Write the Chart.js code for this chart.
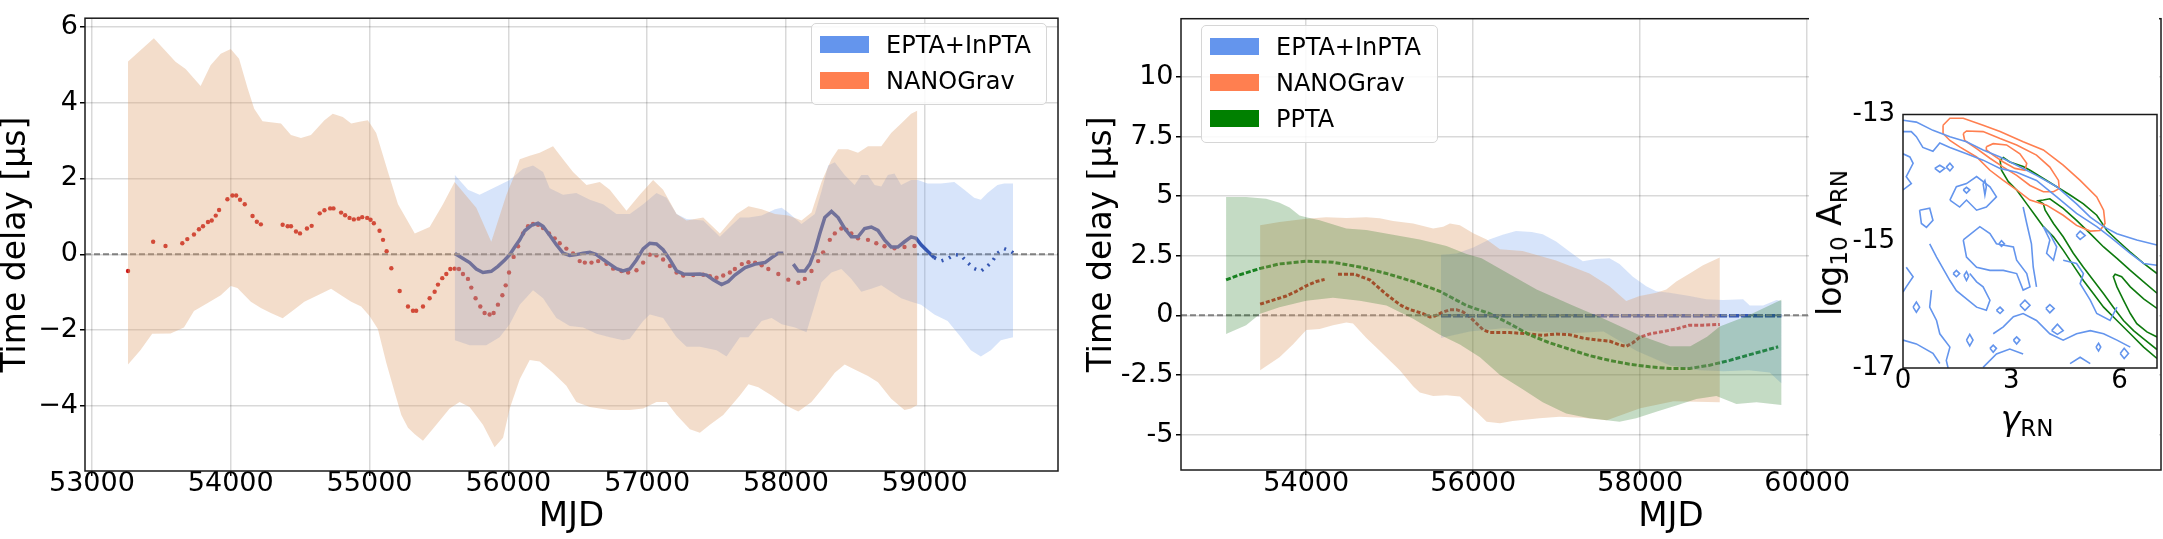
<!DOCTYPE html>
<html>
<head>
<meta charset="utf-8">
<script src="https://cdn.jsdelivr.net/npm/chart.js@4.4.1/dist/chart.umd.min.js"></script>
<style>
  body { margin: 0; background: #fff; width: 2163px; height: 539px; overflow: hidden; position: relative; font-family: "DejaVu Sans", sans-serif; }
  canvas { position: absolute; }
  .legend { position: absolute; background: rgba(255,255,255,0.85); border: 1px solid #d6d6d6; border-radius: 5px; font-size: 24px; }
  .legend .patch { position: absolute; width: 49px; height: 17px; }
  .legend .lab { position: absolute; line-height: 24px; white-space: nowrap; }
  .lbl { position: absolute; font-size: 33px; white-space: nowrap; color: #000; }
  .lbl sub { font-size: 23px; vertical-align: -6px; }
</style>
</head>
<body>
<canvas id="left" width="1075" height="539" style="left:0;top:0"></canvas>
<canvas id="mid" width="1077" height="539" style="left:1086px;top:0"></canvas>
<canvas id="inset" width="350" height="466" style="left:1809px;top:3px;background:#fff"></canvas>
<div id="legLeft" class="legend" style="left:811px;top:23px;width:234px;height:80px"></div>
<div id="legMid" class="legend" style="left:1201px;top:25px;width:235px;height:116px"></div>
<div class="lbl" style="left:1831px;top:243px;transform:translate(-50%,-50%) rotate(-90deg)">log<sub>10</sub> A<sub>RN</sub></div>
<div class="lbl" style="left:2027px;top:420px;transform:translate(-50%,-50%)"><i>γ</i><sub>RN</sub></div>
<script>
// ---------- left panel: [MJD, time delay in us] ----------
const nanoUpper = [[53260,5.09],[53446,5.70],[53602,5.08],[53675,4.89],[53783,4.44],[53855,4.99],[53928,5.29],[54000,5.42],[54060,5.16],[54121,4.39],[54169,3.84],[54229,3.51],[54362,3.45],[54434,3.15],[54506,3.07],[54578,3.15],[54675,3.54],[54735,3.71],[54807,3.62],[54868,3.45],[54928,3.50],[54988,3.54],[55048,3.20],[55133,2.17],[55205,1.32],[55326,0.55],[55433,0.72],[55529,1.32],[55613,1.91],[55769,1.23],[55877,0.33],[55986,1.57],[56034,2.00],[56082,2.51],[56154,2.60],[56226,2.68],[56322,2.85],[56394,2.51],[56466,2.17],[56563,1.83],[56659,1.91],[56731,1.70],[56851,1.15],[56947,1.57],[57043,1.96],[57115,1.70],[57212,1.06],[57284,0.89],[57404,0.97],[57524,0.55],[57644,1.06],[57730,1.27],[57825,1.19],[57921,1.06],[58017,1.02],[58112,0.89],[58184,1.10],[58256,1.91],[58328,2.51],[58376,2.77],[58447,2.77],[58519,2.68],[58591,2.85],[58687,2.85],[58758,3.20],[58830,3.45],[58902,3.71],[58945,3.79]];
const nanoLower = [[53260,-2.91],[53349,-2.53],[53434,-2.10],[53566,-2.09],[53663,-1.93],[53735,-1.50],[53831,-1.29],[53928,-1.08],[54000,-0.84],[54048,-0.89],[54145,-1.25],[54217,-1.42],[54289,-1.55],[54374,-1.69],[54458,-1.46],[54530,-1.25],[54627,-1.08],[54723,-0.91],[54795,-1.08],[54868,-1.25],[54940,-1.38],[55000,-1.63],[55060,-1.97],[55121,-2.87],[55181,-3.64],[55229,-4.24],[55277,-4.58],[55326,-4.75],[55385,-4.92],[55481,-4.50],[55577,-4.07],[55649,-3.90],[55721,-4.03],[55817,-4.50],[55901,-5.09],[55962,-4.84],[56010,-4.07],[56082,-3.30],[56154,-2.79],[56226,-2.83],[56322,-3.13],[56418,-3.47],[56490,-3.90],[56587,-4.03],[56731,-4.11],[56875,-4.11],[56971,-4.07],[57067,-3.90],[57140,-3.90],[57212,-4.24],[57308,-4.62],[57380,-4.71],[57452,-4.50],[57548,-4.24],[57668,-3.73],[57730,-3.43],[57801,-3.51],[57897,-3.73],[57993,-3.98],[58089,-4.15],[58184,-3.90],[58280,-3.47],[58352,-3.13],[58423,-2.91],[58495,-3.04],[58591,-3.21],[58663,-3.38],[58758,-3.81],[58854,-4.11],[58902,-4.07],[58945,-3.98]];
const eptaUpper = [[55615,2.09],[55709,1.70],[55793,1.57],[55889,1.74],[56010,1.96],[56106,2.26],[56178,2.34],[56250,2.17],[56298,1.74],[56394,1.57],[56490,1.62],[56587,1.44],[56683,1.32],[56779,1.06],[56875,1.06],[56971,1.32],[57067,1.62],[57140,1.49],[57212,1.06],[57284,0.93],[57404,0.89],[57524,0.46],[57596,0.72],[57668,0.97],[57730,0.97],[57825,1.02],[57921,1.19],[57969,1.23],[58017,1.10],[58112,0.80],[58208,1.06],[58256,1.66],[58304,2.34],[58352,2.43],[58423,2.09],[58495,1.83],[58543,2.09],[58591,2.09],[58639,1.83],[58687,1.79],[58734,2.09],[58782,2.13],[58830,1.83],[58902,1.96],[58950,1.96],[59021,1.87],[59117,1.87],[59213,1.91],[59285,1.70],[59356,1.49],[59404,1.44],[59452,1.62],[59524,1.83],[59572,1.87],[59636,1.87]];
const eptaLower = [[55615,-2.27],[55721,-2.40],[55841,-2.40],[55937,-2.19],[56010,-1.85],[56082,-1.33],[56178,-0.95],[56250,-1.16],[56346,-1.68],[56442,-1.89],[56539,-1.93],[56635,-2.10],[56731,-2.19],[56827,-2.27],[56875,-2.23],[56971,-1.76],[57019,-1.59],[57115,-1.68],[57212,-2.19],[57284,-2.44],[57380,-2.44],[57500,-2.53],[57572,-2.70],[57668,-2.19],[57730,-2.19],[57825,-1.76],[57897,-1.68],[57969,-1.85],[58065,-1.93],[58148,-2.06],[58208,-1.33],[58256,-0.74],[58328,-0.48],[58399,-0.39],[58471,-0.65],[58543,-0.99],[58615,-0.91],[58687,-0.82],[58758,-0.99],[58830,-1.16],[58902,-1.25],[58974,-1.33],[59069,-1.59],[59165,-1.76],[59261,-2.19],[59332,-2.53],[59404,-2.70],[59476,-2.53],[59548,-2.27],[59636,-2.19]];
const nanoDots = [[53260,-0.44],[53441,0.33],[53530,0.22],[53651,0.29],[53687,0.40],[53735,0.52],[53771,0.66],[53800,0.74],[53836,0.85],[53863,0.89],[53892,1.02],[53916,1.17],[53976,1.45],[54012,1.55],[54039,1.55],[54067,1.44],[54101,1.32],[54157,1.01],[54188,0.86],[54217,0.79],[54374,0.78],[54410,0.74],[54434,0.74],[54470,0.60],[54499,0.55],[54549,0.68],[54583,0.75],[54641,1.08],[54675,1.16],[54716,1.21],[54740,1.21],[54795,1.10],[54824,1.03],[54856,0.96],[54887,0.92],[54921,0.94],[54947,0.98],[54983,0.96],[55007,0.91],[55031,0.82],[55072,0.62],[55097,0.38],[55123,0.08],[55157,-0.37],[55217,-0.97],[55277,-1.38],[55313,-1.49],[55336,-1.49],[55385,-1.38],[55433,-1.16],[55469,-0.99],[55493,-0.80],[55524,-0.63],[55553,-0.52],[55582,-0.39],[55613,-0.38],[55644,-0.39],[55673,-0.52],[55709,-0.65],[55733,-0.88],[55764,-1.16],[55798,-1.38],[55829,-1.55],[55865,-1.59],[55894,-1.55],[55925,-1.33],[55957,-1.08],[55981,-0.82],[56005,-0.48],[56038,-0.07],[56070,0.21],[56106,0.55],[56142,0.74],[56178,0.80],[56214,0.78],[56250,0.69],[56293,0.55],[56334,0.42],[56370,0.29],[56418,0.15],[56466,0.02],[56514,-0.18],[56551,-0.22],[56599,-0.22],[56647,-0.18],[56707,-0.25],[56755,-0.38],[56815,-0.44],[56863,-0.48],[56923,-0.42],[56971,-0.22],[57019,-0.01],[57067,-0.03],[57115,-0.14],[57164,-0.31],[57212,-0.48],[57260,-0.56],[57332,-0.55],[57404,-0.54],[57452,-0.58],[57500,-0.62],[57548,-0.56],[57596,-0.48],[57632,-0.39],[57682,-0.26],[57730,-0.21],[57778,-0.22],[57825,-0.29],[57873,-0.39],[57945,-0.52],[58017,-0.67],[58089,-0.75],[58136,-0.65],[58184,-0.44],[58232,-0.18],[58268,0.05],[58316,0.38],[58352,0.55],[58399,0.68],[58435,0.65],[58471,0.55],[58519,0.42],[58591,0.38],[58651,0.29],[58710,0.21],[58782,0.16],[58854,0.19],[58926,0.22]];
const eptaCurve = [[55615,0.02],[55673,-0.11],[55721,-0.22],[55769,-0.39],[55817,-0.48],[55877,-0.45],[55925,-0.32],[55974,-0.15],[56010,-0.01],[56046,0.19],[56082,0.38],[56118,0.62],[56166,0.76],[56214,0.82],[56250,0.74],[56298,0.50],[56346,0.25],[56394,0.03],[56442,-0.03],[56490,-0.01],[56539,0.03],[56587,0.05],[56635,-0.01],[56683,-0.14],[56731,-0.26],[56779,-0.38],[56827,-0.44],[56875,-0.39],[56923,-0.15],[56971,0.14],[57019,0.29],[57067,0.27],[57115,0.12],[57164,-0.14],[57212,-0.44],[57260,-0.52],[57308,-0.53],[57380,-0.52],[57428,-0.55],[57476,-0.67],[57536,-0.80],[57584,-0.72],[57632,-0.55],[57706,-0.35],[57778,-0.26],[57849,-0.22],[57897,-0.09],[57945,0.03],[57981,0.03],[58010,null],[58053,-0.26],[58089,-0.44],[58136,-0.44],[58172,-0.26],[58208,0.08],[58244,0.55],[58280,0.97],[58328,1.13],[58376,0.97],[58423,0.68],[58471,0.46],[58519,0.46],[58567,0.68],[58615,0.72],[58663,0.63],[58710,0.38],[58758,0.19],[58806,0.19],[58854,0.33],[58902,0.46],[58938,0.42],[58974,0.25],[59021,0.08],[59069,-0.09],[59117,-0.18],[59165,-0.12],[59213,-0.01],[59261,-0.03],[59308,-0.22],[59356,-0.38],[59404,-0.45],[59452,-0.31],[59488,-0.18],[59524,0.03],[59572,0.15],[59620,0.08],[59643,0.02]];

// ---------- middle panel ----------
const eptaUpperM = [[55614,2.54],[55800,2.60],[56000,2.85],[56192,3.18],[56352,3.38],[56512,3.54],[56700,3.50],[56832,3.40],[56992,3.10],[57152,2.68],[57312,2.27],[57472,2.36],[57632,2.40],[57752,2.16],[57912,1.62],[58072,1.22],[58192,1.01],[58352,0.95],[58592,0.81],[58792,0.68],[58992,0.64],[59232,0.68],[59312,0.41],[59472,0.41],[59632,0.64],[59690,0.60]];
const eptaLowerM = [[55614,-0.95],[55960,-0.68],[56360,-0.54],[56760,-0.68],[57160,-0.75],[57560,-0.68],[57958,-1.50],[58357,-2.10],[58700,-2.30],[59000,-2.35],[59300,-2.30],[59550,-2.40],[59690,-2.85]];
const nanoUpperM = [[53448,3.78],[53680,3.92],[54000,4.05],[54240,4.12],[54480,4.09],[54720,4.12],[54880,4.08],[55040,3.96],[55280,3.85],[55520,3.65],[55640,3.72],[55720,3.85],[55840,3.78],[56000,3.45],[56160,3.18],[56320,2.77],[56592,2.70],[56992,2.30],[57392,1.76],[57632,1.22],[57832,0.60],[57992,0.81],[58192,0.95],[58312,1.08],[58432,1.42],[58592,1.76],[58752,2.10],[58952,2.43]];
const nanoLowerM = [[53448,-2.30],[53680,-1.76],[53840,-1.22],[54000,-0.61],[54160,-0.57],[54320,-0.41],[54480,-0.30],[54560,-0.34],[54720,-0.95],[54880,-1.49],[55120,-2.30],[55280,-2.97],[55360,-3.24],[55520,-3.38],[55680,-3.35],[55840,-3.41],[56000,-3.92],[56160,-4.46],[56320,-4.53],[56472,-4.43],[56792,-4.32],[57032,-4.26],[57300,-4.30],[57600,-4.40],[58000,-3.90],[58400,-3.60],[58952,-3.65]];
const pptaUpper = [[53040,4.97],[53280,4.97],[53520,4.89],[53680,4.73],[53800,4.53],[53920,4.19],[54000,4.12],[54160,3.99],[54480,3.65],[54720,3.58],[55040,3.38],[55360,3.18],[55680,2.91],[55920,2.57],[56100,2.40],[56400,1.80],[56760,1.08],[57200,0.40],[57558,-0.13],[58000,-0.85],[58357,-1.30],[58600,-1.30],[58800,-0.90],[58952,-0.47],[59300,0.00],[59690,0.65]];
const pptaLower = [[53040,-0.78],[53280,-0.41],[53448,0.07],[53680,0.34],[54000,0.61],[54320,0.74],[54640,0.61],[54960,0.41],[55280,-0.14],[55600,-0.81],[55840,-1.22],[56080,-1.76],[56320,-2.50],[56592,-3.10],[56832,-3.65],[57112,-4.12],[57392,-4.32],[57752,-4.46],[57952,-4.32],[58192,-4.05],[58432,-3.78],[58672,-3.51],[58912,-3.38],[59152,-3.72],[59392,-3.65],[59690,-3.76]];
const nanoCurveM = [[53448,0.47],[53640,0.68],[53760,0.81],[53880,1.01],[54000,1.24],[54120,1.42],[54220,1.51],[54300,null],[54380,1.72],[54480,1.73],[54580,1.73],[54660,1.62],[54760,1.49],[54860,1.18],[54960,0.88],[55060,0.61],[55140,0.41],[55240,0.24],[55320,0.16],[55400,0.07],[55480,-0.07],[55540,-0.03],[55620,0.11],[55720,0.24],[55800,0.24],[55880,0.14],[55960,-0.07],[56040,-0.34],[56120,-0.61],[56200,-0.72],[56432,-0.72],[56672,-0.78],[56832,-0.84],[56992,-0.78],[57152,-0.81],[57312,-0.95],[57472,-1.03],[57632,-1.08],[57752,-1.24],[57832,-1.30],[57912,-1.15],[57992,-0.92],[58112,-0.78],[58272,-0.68],[58432,-0.57],[58592,-0.41],[58752,-0.41],[58952,-0.38]];
const pptaCurve = [[53040,1.49],[53200,1.70],[53440,1.96],[53680,2.16],[54000,2.27],[54320,2.23],[54640,2.03],[54960,1.76],[55280,1.42],[55600,1.01],[55920,0.41],[56192,0.08],[56432,-0.34],[56672,-0.81],[56912,-1.15],[57152,-1.42],[57392,-1.69],[57632,-1.89],[57872,-2.05],[58112,-2.16],[58352,-2.23],[58592,-2.23],[58832,-2.09],[59072,-1.89],[59312,-1.65],[59652,-1.32]];
const eptaCurveM = [[55614,-0.02],[59690,-0.02]];

// ---------- inset contours: [gamma_RN, log10 A_RN] ----------
const nanoContours = [
  [[1.11,-13.17],[1.30,-13.06],[1.67,-13.06],[2.22,-13.17],[2.69,-13.27],[3.33,-13.43],[3.89,-13.56],[4.44,-13.80],[4.91,-14.04],[5.37,-14.30],[5.56,-14.51],[5.60,-14.72],[5.46,-14.83],[5.19,-14.84],[4.81,-14.75],[4.44,-14.59],[3.98,-14.43],[3.52,-14.35],[3.15,-14.19],[2.78,-14.04],[2.41,-13.88],[2.04,-13.67],[1.57,-13.51],[1.30,-13.41],[1.11,-13.30],[1.11,-13.17]],
  [[1.67,-13.30],[1.76,-13.26],[2.22,-13.27],[2.69,-13.38],[3.15,-13.48],[3.70,-13.64],[4.07,-13.83],[4.31,-14.04],[4.33,-14.17],[4.17,-14.22],[3.89,-14.22],[3.52,-14.12],[3.15,-13.96],[2.78,-13.83],[2.41,-13.69],[2.04,-13.54],[1.71,-13.41],[1.67,-13.30]],
  [[2.31,-13.51],[2.50,-13.46],[2.87,-13.48],[3.24,-13.62],[3.43,-13.77],[3.38,-13.88],[3.10,-13.85],[2.78,-13.75],[2.50,-13.64],[2.31,-13.56],[2.31,-13.51]]
];
const pptaContours = [
  [[7.04,-15.51],[6.67,-15.35],[6.30,-15.17],[5.93,-14.98],[5.65,-14.83],[5.56,-14.75],[5.37,-14.59],[5.00,-14.41],[4.63,-14.27],[4.26,-14.14],[3.89,-14.01],[3.52,-13.88],[3.33,-13.82],[2.96,-13.75],[2.78,-13.68],[2.69,-13.72],[2.73,-13.88],[2.92,-14.06],[3.15,-14.19],[3.43,-14.41],[3.66,-14.59],[3.89,-14.77],[4.17,-14.93],[4.44,-15.14],[4.72,-15.38],[5.00,-15.62],[5.28,-15.83],[5.56,-16.04],[5.93,-16.25],[6.30,-16.46],[6.67,-16.67],[7.04,-16.85]],
  [[7.04,-15.82],[6.67,-15.64],[6.30,-15.46],[5.93,-15.27],[5.56,-15.09],[5.19,-14.88],[4.81,-14.67],[4.44,-14.48],[4.07,-14.33],[3.89,-14.35],[3.75,-14.36],[3.89,-14.41],[3.94,-14.51],[4.17,-14.72],[4.44,-14.93],[4.72,-15.19],[5.00,-15.41],[5.28,-15.62],[5.56,-15.83],[5.83,-16.04],[6.11,-16.25],[6.39,-16.41],[6.67,-16.54],[7.04,-16.71]],
  [[7.04,-16.06],[6.67,-15.91],[6.30,-15.72],[6.06,-15.56],[5.88,-15.52],[5.83,-15.56],[5.93,-15.72],[6.11,-15.93],[6.30,-16.14],[6.48,-16.30],[6.76,-16.43],[7.04,-16.51]]
];
const eptaContours = [
  [[0,-13.09],[0.37,-13.12],[0.83,-13.25],[1.30,-13.35],[1.76,-13.43],[2.22,-13.56],[2.69,-13.67],[3.15,-13.80],[3.70,-13.96],[4.26,-14.14],[4.81,-14.41],[5.19,-14.62],[5.56,-14.77],[5.93,-14.88],[6.48,-14.98],[7.04,-15.06]],
  [[0,-13.27],[0.23,-13.27],[0.37,-13.35],[0.55,-13.52],[0.83,-13.58],[1.02,-13.45],[1.30,-13.52],[1.76,-13.62],[2.22,-13.72],[2.69,-13.85],[3.15,-13.91],[3.70,-14.04],[4.26,-14.30],[4.81,-14.56],[5.37,-14.77],[5.74,-14.93],[6.30,-15.19],[6.67,-15.35],[7.04,-15.38]],
  [[0,-13.62],[0.19,-13.67],[0.28,-13.77],[0.09,-13.98],[0.23,-14.09],[0,-14.19]],
  [[0.46,-14.51],[0.74,-14.48],[0.83,-14.67],[0.65,-14.78],[0.51,-14.72],[0.46,-14.51]],
  [[0.79,-15.77],[0.74,-16.04],[0.93,-16.25],[1.02,-16.46],[1.30,-16.67],[1.20,-16.88],[1.25,-17.0]],
  [[0.09,-15.41],[0.28,-15.56],[0.09,-15.72],[0,-15.80]],
  [[1.67,-14.98],[2.13,-14.77],[2.41,-14.88],[2.59,-15.04],[3.06,-15.09],[3.15,-15.30],[3.43,-15.51],[3.52,-15.72],[3.33,-15.77],[3.15,-15.51],[2.78,-15.46],[2.41,-15.46],[2.04,-15.41],[1.76,-15.25],[1.67,-14.98]],
  [[0.74,-15.04],[0.93,-15.25],[1.30,-15.62],[1.48,-15.78],[2.04,-16.04],[2.31,-16.09],[2.41,-15.93],[2.22,-15.72],[2.04,-15.64],[1.85,-15.51]],
  [[1.30,-14.35],[1.48,-14.14],[1.76,-14.09],[2.04,-13.98],[2.41,-14.14],[2.59,-14.30],[2.31,-14.46],[2.04,-14.51],[1.76,-14.35],[1.57,-14.46],[1.30,-14.35]],
  [[3.33,-14.46],[3.43,-14.72],[3.56,-15.04],[3.61,-15.41],[3.70,-15.72]],
  [[3.89,-14.77],[4.07,-14.98],[3.98,-15.19],[4.17,-15.30],[4.26,-15.09],[4.07,-14.88],[3.89,-14.77]],
  [[2.50,-16.46],[2.78,-16.35],[3.06,-16.19],[3.33,-16.14],[3.70,-16.25],[4.07,-16.46],[4.44,-16.56],[4.81,-16.46],[5.19,-16.41],[5.56,-16.46],[5.93,-16.56],[6.30,-16.67]],
  [[0,-16.56],[0.37,-16.62],[0.83,-16.77],[1.02,-16.93]],
  [[4.44,-15.30],[4.81,-15.35],[5.00,-15.51],[4.91,-15.67],[5.19,-15.93],[5.37,-16.14],[5.74,-16.25],[5.93,-16.04]],
  [[2.22,-16.99],[2.59,-16.78],[2.96,-16.70],[3.33,-16.78]],
  [[4.63,-16.93],[4.91,-16.83],[5.19,-16.93]],
  [[0.88,-13.85],[1.02,-13.80],[1.16,-13.85],[1.02,-13.91],[0.88,-13.85]],
  [[1.67,-14.19],[1.76,-14.15],[1.85,-14.19],[1.76,-14.24],[1.67,-14.19]],
  [[2.22,-14.09],[2.27,-14.04],[2.31,-14.14],[2.27,-14.27],[2.22,-14.09]],
  [[1.39,-15.51],[1.48,-15.46],[1.57,-15.51],[1.48,-15.56],[1.39,-15.51]],
  [[1.69,-15.54],[1.76,-15.48],[1.82,-15.55],[1.76,-15.62],[1.69,-15.54]],
  [[0.28,-16.04],[0.37,-15.96],[0.46,-16.04],[0.37,-16.12],[0.28,-16.04]],
  [[2.59,-16.09],[2.69,-16.04],[2.78,-16.09],[2.69,-16.14],[2.59,-16.09]],
  [[3.24,-16.01],[3.38,-15.93],[3.52,-16.01],[3.38,-16.09],[3.24,-16.01]],
  [[3.96,-16.06],[4.07,-16.00],[4.19,-16.06],[4.07,-16.13],[3.96,-16.06]],
  [[4.12,-16.41],[4.28,-16.31],[4.44,-16.41],[4.28,-16.47],[4.12,-16.41]],
  [[1.76,-16.56],[1.85,-16.47],[1.94,-16.56],[1.85,-16.65],[1.76,-16.56]],
  [[3.06,-16.56],[3.15,-16.51],[3.24,-16.56],[3.15,-16.62],[3.06,-16.56]],
  [[6.02,-16.77],[6.13,-16.69],[6.25,-16.77],[6.13,-16.85],[6.02,-16.77]],
  [[2.66,-15.04],[2.73,-14.99],[2.81,-15.04],[2.73,-15.08],[2.66,-15.04]],
  [[4.80,-14.91],[4.91,-14.84],[5.05,-14.91],[4.91,-14.97],[4.80,-14.91]],
  [[2.41,-16.69],[2.50,-16.64],[2.59,-16.69],[2.50,-16.75],[2.41,-16.69]],
  [[1.20,-13.83],[1.30,-13.77],[1.39,-13.83],[1.30,-13.89],[1.20,-13.83]],
  [[5.35,-16.67],[5.42,-16.61],[5.48,-16.67],[5.42,-16.73],[5.35,-16.67]]
];

const legendLabels = ['EPTA+InPTA', 'NANOGrav', 'PPTA'];
const legendColors = ['#6495ed', '#ff7f50', '#008000'];
const leftTicksX = [53000, 54000, 55000, 56000, 57000, 58000, 59000];
const midTicksX = [54000, 56000, 58000, 60000];

Chart.defaults.font.family = '"DejaVu Sans", sans-serif';
Chart.defaults.color = '#000';

const pts = arr => arr.map(p => ({x: p[0], y: p[1]}));
const shape = (up, lo) => pts(up.concat(lo.slice().reverse()));
const fixW = w => s => { s.width = w; };
const fixH = h => s => { s.height = h; };

const framePlugin = {
  id: 'frame',
  afterDatasetsDraw(chart) {
    const a = chart.chartArea, ctx = chart.ctx;
    ctx.save();
    ctx.strokeStyle = '#1a1a1a';
    ctx.lineWidth = 1.5;
    ctx.strokeRect(a.left, a.top, a.right - a.left, a.bottom - a.top);
    ctx.restore();
  }
};

const BAND_BLUE = 'rgba(100,149,237,0.26)';
const BAND_ORANGE = 'rgba(222,160,110,0.36)';
const BAND_GREEN = 'rgba(0,100,0,0.23)';

// the filler paints the first dataset last, so bands are listed top-most first
function bandSet(up, lo, color) {
  return {data: shape(up, lo), showLine: true, fill: 'shape', backgroundColor: color, borderWidth: 0, pointRadius: 0};
}
function zeroLine(x0, x1) {
  return {data: [{x: x0, y: 0}, {x: x1, y: 0}], showLine: true, borderColor: '#808080', borderWidth: 2, borderDash: [6, 3], pointRadius: 0};
}
function keepTicks(list) {
  return s => { s.ticks = list.map(v => ({value: v})); };
}
function gridOpts() {
  return {color: 'rgba(0,0,0,0.15)', lineWidth: 1.5, tickLength: 5, tickColor: '#000'};
}

// ---------- left chart ----------
new Chart(document.getElementById('left'), {
  type: 'scatter',
  data: {datasets: [
    bandSet(nanoUpper, nanoLower, BAND_ORANGE),
    bandSet(eptaUpper, eptaLower, BAND_BLUE),
    zeroLine(52950, 59960),
    {data: pts(eptaCurve), showLine: true, spanGaps: false, borderColor: '#24409e', borderWidth: 3.5, pointRadius: 0,
     segment: {borderDash: c => c.p0.parsed.x >= 59030 ? [2, 6] : undefined}},
    {data: pts(nanoDots), showLine: false, pointRadius: 2.2, pointBackgroundColor: '#cc1a1a', pointBorderWidth: 0}
  ]},
  options: {
    responsive: false, animation: false,
    layout: {padding: {left: 0, top: 5, right: 17, bottom: 0}},
    plugins: {legend: {display: false}, tooltip: {enabled: false}},
    scales: {
      x: {type: 'linear', min: 52950, max: 59960, afterFit: fixH(68), afterBuildTicks: keepTicks(leftTicksX),
          grid: gridOpts(), border: {display: false},
          ticks: {font: {size: 27, lineHeight: 1}, padding: -6, maxRotation: 0, callback: v => String(v)},
          title: {display: true, text: 'MJD', font: {size: 34, lineHeight: 1}, padding: {top: 0, bottom: 5}}},
      y: {type: 'linear', min: -5.72, max: 6.23, afterFit: fixW(85),
          grid: gridOpts(), border: {display: false},
          ticks: {stepSize: 2, includeBounds: false, font: {size: 27}, padding: 2, callback: v => v < 0 ? '\u2212' + Math.abs(v) : String(v)},
          title: {display: true, text: 'Time delay [μs]', font: {size: 33, lineHeight: 1}, padding: 0}}
    }
  },
  plugins: [framePlugin]
});

// ---------- middle chart ----------
new Chart(document.getElementById('mid'), {
  type: 'scatter',
  data: {datasets: [
    bandSet(pptaUpper, pptaLower, BAND_GREEN),
    bandSet(nanoUpperM, nanoLowerM, BAND_ORANGE),
    bandSet(eptaUpperM, eptaLowerM, BAND_BLUE),
    zeroLine(52500, 60100),
    {data: pts(eptaCurveM), showLine: true, borderColor: '#24409e', borderWidth: 3.5, borderDash: [10, 2], pointRadius: 0},
    {data: pts(pptaCurve), showLine: true, borderColor: '#1f8a2a', borderWidth: 3, borderDash: [5, 2], pointRadius: 0},
    {data: pts(nanoCurveM), showLine: true, spanGaps: false, borderColor: '#cc1a1a', borderWidth: 3, borderDash: [4, 2], pointRadius: 0}
  ]},
  options: {
    responsive: false, animation: false,
    layout: {padding: {left: 0, top: 1, right: 2, bottom: 0}},
    plugins: {legend: {display: false}, tooltip: {enabled: false}},
    scales: {
      x: {type: 'linear', min: 52500, max: 64237, afterFit: fixH(69), afterBuildTicks: keepTicks(midTicksX),
          grid: gridOpts(), border: {display: false},
          ticks: {font: {size: 27, lineHeight: 1}, padding: -4.5, maxRotation: 0, callback: v => String(v)},
          title: {display: true, text: 'MJD', font: {size: 34, lineHeight: 1}, padding: {top: 0, bottom: 5}}},
      y: {type: 'linear', min: -6.49, max: 12.45, afterFit: fixW(95),
          grid: gridOpts(), border: {display: false},
          ticks: {stepSize: 2.5, includeBounds: false, font: {size: 27}, padding: 2.5},
          title: {display: true, text: 'Time delay [μs]', font: {size: 33, lineHeight: 1}, padding: 0}}
    }
  },
  plugins: [framePlugin]
});

// ---------- inset ----------
const insetSets = [];
eptaContours.forEach(c => insetSets.push({data: pts(c), showLine: true, borderColor: '#6495ed', borderWidth: 1.6, pointRadius: 0}));
nanoContours.forEach(c => insetSets.push({data: pts(c), showLine: true, borderColor: '#ff7f50', borderWidth: 1.6, pointRadius: 0}));
pptaContours.forEach(c => insetSets.push({data: pts(c), showLine: true, borderColor: '#0e7a0e', borderWidth: 1.6, pointRadius: 0}));

new Chart(document.getElementById('inset'), {
  type: 'scatter',
  data: {datasets: insetSets},
  options: {
    responsive: false, animation: false,
    layout: {padding: {left: 0, top: 111.5, right: 2, bottom: 61}},
    plugins: {legend: {display: false}, tooltip: {enabled: false}},
    scales: {
      x: {type: 'linear', min: 0, max: 7.04, afterFit: fixH(40), afterBuildTicks: keepTicks([0, 3, 6]),
          grid: {display: false, tickLength: 4}, border: {display: false},
          ticks: {font: {size: 26, lineHeight: 1}, padding: -4, maxRotation: 0}},
      y: {type: 'linear', min: -17, max: -13, afterFit: fixW(94), afterBuildTicks: keepTicks([-17, -15, -13]),
          grid: {display: false, tickLength: 4}, border: {display: false},
          ticks: {font: {size: 26}, padding: 4}}
    }
  },
  plugins: [framePlugin]
});

// ---------- legends ----------
function makeLegend(id, n) {
  const box = document.getElementById(id);
  for (let i = 0; i < n; i++) {
    const cy = 20.8 + 36 * i;
    const p = document.createElement('div');
    p.className = 'patch';
    p.style.left = '8px';
    p.style.top = (cy - 8.5) + 'px';
    p.style.background = legendColors[i];
    box.appendChild(p);
    const t = document.createElement('div');
    t.className = 'lab';
    t.style.left = '74px';
    t.style.top = (cy - 12) + 'px';
    t.textContent = legendLabels[i];
    box.appendChild(t);
  }
}
makeLegend('legLeft', 2);
makeLegend('legMid', 3);
</script>
</body>
</html>
